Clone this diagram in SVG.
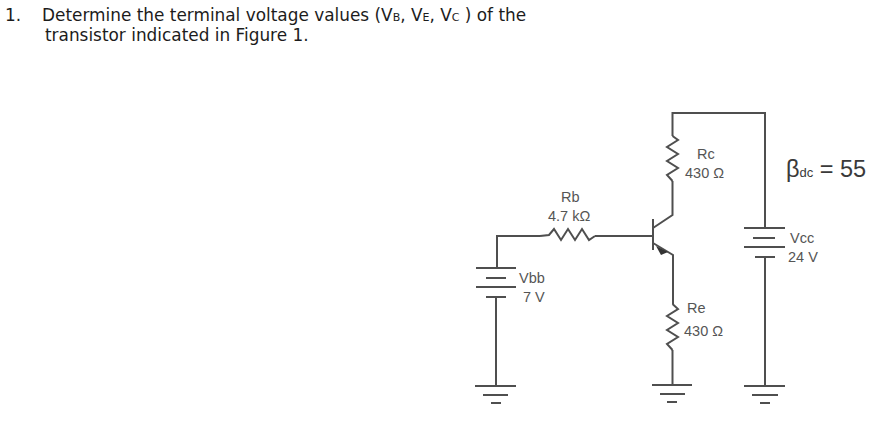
<svg xmlns="http://www.w3.org/2000/svg" width="882" height="427" viewBox="0 0 882 427">
<style>
.w{fill:none;stroke:#4f4f4f;stroke-width:2;stroke-linejoin:miter}
.h{font-family:"DejaVu Sans",Verdana,sans-serif;font-size:16.9px;fill:#1c1c1c}
.l{font-family:"Liberation Sans",Arial,sans-serif;font-size:14.500px;fill:#555}
.b{font-family:"Liberation Sans",Arial,sans-serif;font-size:23.500px;fill:#3a3a3a}
</style>
<rect width="882" height="427" fill="#fff"/>
<g id="question">
<text class="h" x="5" y="21">1.</text>
<text class="h" x="42" y="21">Determine the terminal voltage values (V<tspan font-size="11">B</tspan>, V<tspan font-size="11">E</tspan>, V<tspan font-size="11">C</tspan> ) of the</text>
<text class="h" x="45" y="41">transistor indicated in Figure 1.</text>
</g>
<g id="connectors">
<path class="w" d="M497 268V236H540"/>
<path class="w" d="M595 236H653"/>
<path class="w" d="M496 297V386"/>
<path class="w" d="M672.500 136V113H765V228"/>
<path class="w" d="M672.500 181V215L653 228"/>
<path class="w" d="M653 243L673 255V304"/>
<path class="w" d="M672.500 350V385"/>
<path class="w" d="M765 257V386"/>
</g>
<g id="Rb"><path class="w" d="M540 236L549 235L554 229L561 240L568 229L575 240L582 229L589 240L595 236"/>
<text class="l" x="561" y="202">Rb</text><text class="l" x="548" y="221">4.7 kΩ</text></g>
<g id="Rc"><path class="w" d="M672.500 136L678 140L667 147L678 154L667 161L678 168L667 175L672.500 181"/>
<text class="l" x="697" y="159">Rc</text><text class="l" x="685" y="178">430 Ω</text></g>
<g id="Re"><path class="w" d="M672.500 304L678 309L667 316L678 323L667 330L678 337L667 344L672.500 350"/>
<text class="l" x="687" y="313">Re</text><text class="l" x="684" y="336">430 Ω</text></g>
<g id="transistor"><path class="w" d="M653 219V250"/><path d="M668 252L656 246L661 255Z" fill="#333"/></g>
<g id="Vbb"><path class="w" d="M476 268H516M486 278H506M476 287H516M486 297H506"/>
<text class="l" x="519" y="283">Vbb</text><text class="l" x="523" y="302">7 V</text></g>
<g id="Vcc"><path class="w" d="M744 228H785M753 238H775M744 247H785M755 257H775"/>
<text class="l" x="790" y="243">Vcc</text><text class="l" x="788" y="262">24 V</text></g>
<g id="gnd1"><path class="w" d="M475 386H516M483 395H508M491 403H501"/></g>
<g id="gnd2"><path class="w" d="M652 385H692M660 394H685M667 402H677"/></g>
<g id="gnd3"><path class="w" d="M744 386H785M752 395H778M760 403H770"/></g>
<g id="beta"><text class="b" x="786" y="177">β<tspan font-size="13">dc</tspan> = 55</text></g>
</svg>
